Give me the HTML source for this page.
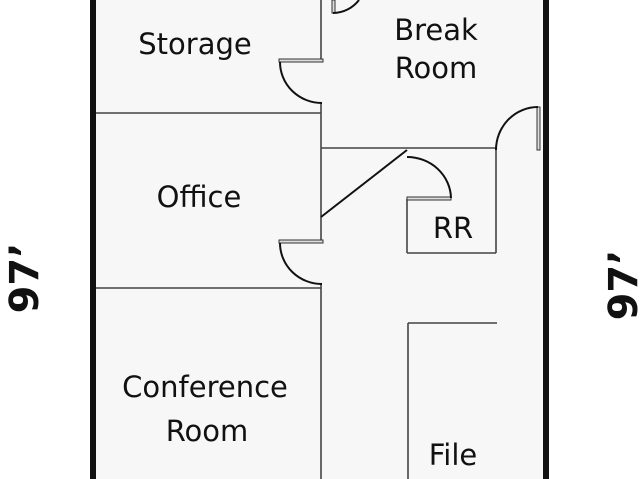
<!DOCTYPE html>
<html><head><style>
html,body{margin:0;padding:0;background:#fff;}
svg{display:block;}
text{font-family:"DejaVu Sans","Liberation Sans",sans-serif;fill:#111;}
</style></head><body>
<svg width="640" height="479" viewBox="0 0 640 479" xmlns="http://www.w3.org/2000/svg">
<rect x="93" y="0" width="452" height="479" fill="#f7f7f7"/>
<g stroke="#111" fill="none">
<line x1="93" y1="0" x2="93" y2="479" stroke-width="6"/>
<line x1="546" y1="0" x2="546" y2="479" stroke-width="6"/>
<g stroke="#444" stroke-width="1.6">
<line x1="321" y1="0" x2="321" y2="60"/>
<line x1="321" y1="102" x2="321" y2="240"/>
<line x1="321" y1="284" x2="321" y2="479"/>
<line x1="96" y1="113" x2="321" y2="113"/>
<line x1="96" y1="288" x2="321" y2="288"/>
<line x1="321" y1="148" x2="496" y2="148"/>
<line x1="496" y1="148" x2="496" y2="253"/>
<line x1="407" y1="199" x2="407" y2="253"/>
<line x1="407" y1="253" x2="496" y2="253"/>
<line x1="408" y1="479" x2="408" y2="323"/>
<line x1="408" y1="323" x2="497" y2="323"/>
</g>
<g stroke="#333" stroke-width="1" fill="#ddd">
<rect x="279" y="59" width="44" height="3"/>
<rect x="279" y="240" width="44" height="3"/>
<rect x="407" y="197" width="44" height="3"/>
<rect x="537" y="107" width="3" height="43"/>
<rect x="332" y="0" width="3" height="13"/>
</g>
<g stroke="#111" stroke-width="2">
<path d="M280,62 A42,41 0 0 0 322,103"/>
<path d="M280,243 A42,41 0 0 0 322,284"/>
<path d="M407,157 A44,42 0 0 1 451,198"/>
<path d="M496,150 A42,43 0 0 1 538,107"/>
<path d="M333,13 A33,33 0 0 0 359,0"/>
<line x1="321" y1="217" x2="407" y2="150"/>
</g>
</g>
<g font-size="29" text-anchor="middle">
<text x="195" y="54">Storage</text>
<text x="436" y="40">Break</text>
<text x="436" y="78">Room</text>
<text x="199" y="207">Office</text>
<text x="453" y="238">RR</text>
<text x="205" y="397">Conference</text>
<text x="207" y="441">Room</text>
<text x="453" y="465">File</text>
</g>
<text font-size="40" font-weight="bold" text-anchor="middle" transform="translate(38,278) rotate(-90)">97’</text>
<text font-size="40" font-weight="bold" text-anchor="middle" transform="translate(637,285) rotate(-90)">97’</text>
</svg>
</body></html>
